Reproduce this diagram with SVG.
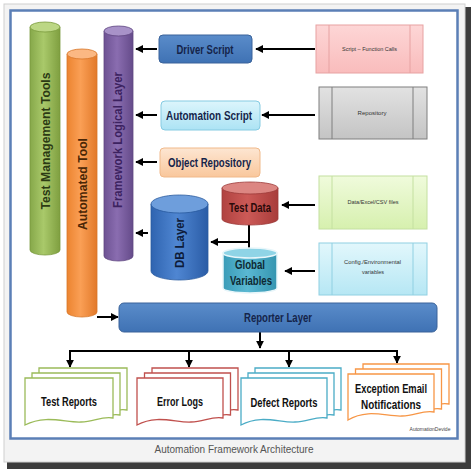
<svg xmlns="http://www.w3.org/2000/svg" width="474" height="472" viewBox="0 0 474 472">
<defs>
<marker id="ah" viewBox="0 0 10 10" refX="9" refY="5" markerWidth="4" markerHeight="4" orient="auto" markerUnits="strokeWidth"><path d="M0,0 L10,5 L0,10 Z" fill="#000"/></marker>
<linearGradient id="gGreen" x1="0" x2="1" y1="0" y2="0"><stop offset="0" stop-color="#86a84a"/><stop offset="0.45" stop-color="#a9c96a"/><stop offset="1" stop-color="#7f9f40"/></linearGradient>
<linearGradient id="gOrange" x1="0" x2="1" y1="0" y2="0"><stop offset="0" stop-color="#ec8430"/><stop offset="0.45" stop-color="#fa9f55"/><stop offset="1" stop-color="#e2792a"/></linearGradient>
<linearGradient id="gPurple" x1="0" x2="1" y1="0" y2="0"><stop offset="0" stop-color="#6d5293"/><stop offset="0.45" stop-color="#8a6db0"/><stop offset="1" stop-color="#654b8a"/></linearGradient>
<linearGradient id="gRed" x1="0" x2="1" y1="0" y2="0"><stop offset="0" stop-color="#b04240"/><stop offset="0.45" stop-color="#cc5a57"/><stop offset="1" stop-color="#a83c3a"/></linearGradient>
<linearGradient id="gTeal" x1="0" x2="1" y1="0" y2="0"><stop offset="0" stop-color="#3a9cb8"/><stop offset="0.45" stop-color="#5ab8d2"/><stop offset="1" stop-color="#3595b0"/></linearGradient>
<linearGradient id="gBlue" x1="0" x2="1" y1="0" y2="0"><stop offset="0" stop-color="#2f64b0"/><stop offset="0.45" stop-color="#4f86d2"/><stop offset="1" stop-color="#2a5ca6"/></linearGradient>
<linearGradient id="gBoxBlue" x1="0" x2="0" y1="0" y2="1"><stop offset="0" stop-color="#5a8cca"/><stop offset="1" stop-color="#3f72b4"/></linearGradient>
<linearGradient id="gBoxCyan" x1="0" x2="0" y1="0" y2="1"><stop offset="0" stop-color="#dcf5fc"/><stop offset="1" stop-color="#ace3f4"/></linearGradient>
<linearGradient id="gBoxPeach" x1="0" x2="0" y1="0" y2="1"><stop offset="0" stop-color="#fde6d2"/><stop offset="1" stop-color="#f9c79c"/></linearGradient>
<linearGradient id="gPink" x1="0" x2="0" y1="0" y2="1"><stop offset="0" stop-color="#fdd6d6"/><stop offset="1" stop-color="#f9bcbc"/></linearGradient>
<linearGradient id="gGray" x1="0" x2="0" y1="0" y2="1"><stop offset="0" stop-color="#e2e2e2"/><stop offset="1" stop-color="#c4c4c4"/></linearGradient>
<linearGradient id="gLime" x1="0" x2="0" y1="0" y2="1"><stop offset="0" stop-color="#f0fbdc"/><stop offset="1" stop-color="#d6f0ae"/></linearGradient>
<linearGradient id="gIce" x1="0" x2="0" y1="0" y2="1"><stop offset="0" stop-color="#e2f7fc"/><stop offset="1" stop-color="#b6e7f4"/></linearGradient>
</defs>
<style>
.lbl{font-family:"Liberation Sans",Arial,sans-serif;font-weight:bold;font-size:12px;text-anchor:middle;dominant-baseline:central;stroke:none}
.sm{font-family:"Liberation Sans",Arial,sans-serif;font-size:6px;fill:#333;text-anchor:middle;dominant-baseline:central;stroke:none}
.conn{stroke:#000;stroke-width:2;fill:none}
.doc{fill:#fff;stroke-width:1.3}
</style>
<rect x="7" y="7" width="464" height="462" fill="#3c3c3c"/>
<rect x="4" y="4" width="461" height="458" fill="#f3f3f3" stroke="#d0d0d0"/>
<rect x="10.5" y="10.5" width="447" height="428" fill="#fff" stroke="#5b7fb6" stroke-width="2.5"/>
<text x="234" y="449" style="font-family:'Liberation Sans',Arial,sans-serif;font-size:10px;fill:#555;text-anchor:middle;dominant-baseline:central">Automation Framework Architecture</text>
<text x="430" y="429" class="sm" style="font-size:5px;fill:#444">AutomationDevide</text>

<g id="connectors">
<line class="conn" x1="157" y1="49" x2="136" y2="49" marker-end="url(#ah)"/>
<line class="conn" x1="157" y1="115" x2="136" y2="115" marker-end="url(#ah)"/>
<line class="conn" x1="157" y1="162" x2="136" y2="162" marker-end="url(#ah)"/>
<line class="conn" x1="148" y1="233" x2="136" y2="233" marker-end="url(#ah)"/>
<line class="conn" x1="315" y1="49" x2="256" y2="49" marker-end="url(#ah)"/>
<line class="conn" x1="315" y1="115" x2="262" y2="115" marker-end="url(#ah)"/>
<line class="conn" x1="315" y1="205" x2="282" y2="205" marker-end="url(#ah)"/>
<line class="conn" x1="315" y1="271" x2="285" y2="271" marker-end="url(#ah)"/>
<line class="conn" x1="249" y1="225" x2="249" y2="249"/>
<line class="conn" x1="250" y1="242" x2="211" y2="242" marker-end="url(#ah)"/>
<line class="conn" x1="97" y1="317" x2="118" y2="317" marker-end="url(#ah)"/>
<line class="conn" x1="260" y1="332" x2="260" y2="348" marker-end="url(#ah)"/>
<polyline class="conn" points="70,360 70,351 397,351 397,360"/>
<line class="conn" x1="70" y1="351" x2="70" y2="367" marker-end="url(#ah)"/>
<line class="conn" x1="189" y1="351" x2="189" y2="367" marker-end="url(#ah)"/>
<line class="conn" x1="289" y1="351" x2="289" y2="367" marker-end="url(#ah)"/>
<line class="conn" x1="397" y1="351" x2="397" y2="363" marker-end="url(#ah)"/>
</g>

<g id="test-management-tools">
<path d="M30,27 V250 A15,5 0 0 0 60,250 V27 Z" fill="url(#gGreen)" stroke="#7a9a3c" stroke-width="0.8"/>
<ellipse cx="45" cy="27" rx="15" ry="5" fill="#bcd785" stroke="#7a9a3c" stroke-width="0.8"/>
<text class="lbl" transform="translate(46,141) rotate(-90)" fill="#2c3a14" textLength="137" lengthAdjust="spacingAndGlyphs">Test Management Tools</text>
</g>
<g id="automated-tool">
<path d="M67,54 V312 A15,5 0 0 0 97,312 V54 Z" fill="url(#gOrange)" stroke="#d8772a" stroke-width="0.8"/>
<ellipse cx="82" cy="54" rx="15" ry="5" fill="#fbb883" stroke="#d8772a" stroke-width="0.8"/>
<text class="lbl" transform="translate(83,184) rotate(-90)" fill="#4a2606" textLength="92" lengthAdjust="spacingAndGlyphs">Automated Tool</text>
</g>
<g id="framework-logical-layer">
<path d="M104,31 V256 A14.5,5 0 0 0 133,256 V31 Z" fill="url(#gPurple)" stroke="#5f4682" stroke-width="0.8"/>
<ellipse cx="118.5" cy="31" rx="14.5" ry="5" fill="#a892c8" stroke="#5f4682" stroke-width="0.8"/>
<text class="lbl" transform="translate(118,140) rotate(-90)" fill="#3c2260" textLength="136" lengthAdjust="spacingAndGlyphs">Framework Logical Layer</text>
</g>

<g id="driver-script">
<rect x="159" y="35" width="93" height="28" rx="4" fill="url(#gBoxBlue)" stroke="#3a639a"/>
<text class="lbl" x="205" y="49.5" fill="#15244a" textLength="57" lengthAdjust="spacingAndGlyphs">Driver Script</text>
</g>
<g id="automation-script">
<rect x="161" y="101" width="99" height="29" rx="4" fill="url(#gBoxCyan)" stroke="#86cbe2"/>
<text class="lbl" x="209" y="116" fill="#15244a" textLength="86" lengthAdjust="spacingAndGlyphs">Automation Script</text>
</g>
<g id="object-repository">
<rect x="160" y="148" width="100" height="29" rx="4" fill="url(#gBoxPeach)" stroke="#f0b98a"/>
<text class="lbl" x="209.5" y="162.5" fill="#15244a" textLength="83" lengthAdjust="spacingAndGlyphs">Object Repository</text>
</g>

<g id="script-function-calls">
<rect x="316" y="25" width="107" height="48" fill="url(#gPink)" stroke="#e7a2a2"/>
<line x1="329" y1="25" x2="329" y2="73" stroke="#e7a2a2"/>
<line x1="410" y1="25" x2="410" y2="73" stroke="#e7a2a2"/>
<text class="sm" x="369.5" y="49" textLength="55" lengthAdjust="spacingAndGlyphs">Script – Function Calls</text>
</g>
<g id="repository">
<rect x="319" y="87" width="108" height="52" fill="url(#gGray)" stroke="#7f7f7f"/>
<line x1="332" y1="87" x2="332" y2="139" stroke="#7f7f7f"/>
<line x1="413" y1="87" x2="413" y2="139" stroke="#7f7f7f"/>
<text class="sm" x="372" y="113" textLength="29" lengthAdjust="spacingAndGlyphs">Repository</text>
</g>
<g id="data-files">
<rect x="319" y="176" width="108" height="53" fill="url(#gLime)" stroke="#c4e0a0"/>
<line x1="332" y1="176" x2="332" y2="229" stroke="#c4e0a0"/>
<line x1="413" y1="176" x2="413" y2="229" stroke="#c4e0a0"/>
<text class="sm" x="373" y="202" textLength="51" lengthAdjust="spacingAndGlyphs">Data/Excel/CSV files</text>
</g>
<g id="config-variables">
<rect x="319" y="243" width="108" height="52" fill="url(#gIce)" stroke="#90d0e2"/>
<line x1="332" y1="243" x2="332" y2="295" stroke="#90d0e2"/>
<line x1="413" y1="243" x2="413" y2="295" stroke="#90d0e2"/>
<text class="sm" x="372.5" y="262" textLength="57" lengthAdjust="spacingAndGlyphs">Config./Environmental</text>
<text class="sm" x="373" y="272" textLength="22" lengthAdjust="spacingAndGlyphs">variables</text>
</g>

<g id="db-layer">
<path d="M151,204 V271 A28.5,9 0 0 0 208,271 V204 Z" fill="url(#gBlue)" stroke="#2a5a9e" stroke-width="0.8"/>
<ellipse cx="179.5" cy="204" rx="28.5" ry="9" fill="#6e9edc" stroke="#2a5a9e" stroke-width="0.8"/>
<text class="lbl" transform="translate(180,243) rotate(-90)" fill="#0e1c3a" textLength="50" lengthAdjust="spacingAndGlyphs">DB Layer</text>
</g>
<g id="test-data">
<path d="M222,188 V219 A28,6 0 0 0 278,219 V188 Z" fill="url(#gRed)" stroke="#9c3a38" stroke-width="0.8"/>
<ellipse cx="250" cy="188" rx="28" ry="6" fill="#dc8682" stroke="#9c3a38" stroke-width="0.8"/>
<text class="lbl" x="250" y="208" fill="#2a0a0a" textLength="42" lengthAdjust="spacingAndGlyphs">Test Data</text>
</g>
<g id="global-variables">
<path d="M223,253 V288 A27,5 0 0 0 277,288 V253 Z" fill="url(#gTeal)" stroke="#e8f6fa" stroke-width="1.5"/>
<ellipse cx="250" cy="253" rx="27" ry="5" fill="#8fd4e6" stroke="#e8f6fa" stroke-width="1.5"/>
<text class="lbl" x="250" y="265" fill="#0e2a33" textLength="30" lengthAdjust="spacingAndGlyphs">Global</text>
<text class="lbl" x="251" y="281" fill="#0e2a33" textLength="42" lengthAdjust="spacingAndGlyphs">Variables</text>
</g>

<g id="reporter-layer">
<rect x="119" y="303" width="318" height="29" rx="5" fill="url(#gBoxBlue)" stroke="#3a639a"/>
<text class="lbl" x="278" y="318" fill="#15244a" textLength="68" lengthAdjust="spacingAndGlyphs">Reporter Layer</text>
</g>

<g id="test-reports" stroke="#9bbb59">
<path class="doc" d="M39,368 H127 V410 C115,408 108,414 95,414 C80,415 60,405 39,413 Z"/>
<path class="doc" d="M32,373 H120 V415 C108,413 101,419 88,419 C73,420 53,410 32,418 Z"/>
<path class="doc" d="M25,378 H113 V418 C101,416 94,422 81,422 C66,423 46,414 25,425 Z"/>
<text class="lbl" x="69" y="402" fill="#111" textLength="56" lengthAdjust="spacingAndGlyphs">Test Reports</text>
</g>
<g id="error-logs" stroke="#c0504d">
<path class="doc" d="M152,368 H238 V410 C226,408 219,414 206,414 C191,415 172,405 152,413 Z"/>
<path class="doc" d="M144.5,373 H230.5 V415 C218.5,413 211.5,419 198.5,419 C183.5,420 164.5,410 144.5,418 Z"/>
<path class="doc" d="M137,378 H223 V418 C211,416 204,422 191,422 C176,423 157,414 137,425 Z"/>
<text class="lbl" x="180" y="402" fill="#111" textLength="46" lengthAdjust="spacingAndGlyphs">Error Logs</text>
</g>
<g id="defect-reports" stroke="#4bacc6">
<path class="doc" d="M255,368 H341 V410 C329,408 322,414 309,414 C294,415 275,405 255,413 Z"/>
<path class="doc" d="M248,373 H334 V415 C322,413 315,419 302,419 C287,420 268,410 248,418 Z"/>
<path class="doc" d="M241,378 H327 V418 C315,416 308,422 295,422 C280,423 261,414 241,425 Z"/>
<text class="lbl" x="284" y="403" fill="#111" textLength="67" lengthAdjust="spacingAndGlyphs">Defect Reports</text>
</g>
<g id="exception-email" stroke="#f79646">
<path class="doc" d="M363,364 H449 V404 C437,402 430,408 417,408 C402,409 383,399 363,407 Z"/>
<path class="doc" d="M355.5,369 H441.5 V409 C429.5,407 422.5,413 409.5,413 C394.5,414 375.5,404 355.5,412 Z"/>
<path class="doc" d="M348,374 H434 V412 C422,410 415,416 402,416 C387,417 368,408 348,420 Z"/>
<text class="lbl" x="391" y="389" fill="#111" textLength="72" lengthAdjust="spacingAndGlyphs">Exception Email</text>
<text class="lbl" x="391" y="405" fill="#111" textLength="60" lengthAdjust="spacingAndGlyphs">Notifications</text>
</g>
</svg>
